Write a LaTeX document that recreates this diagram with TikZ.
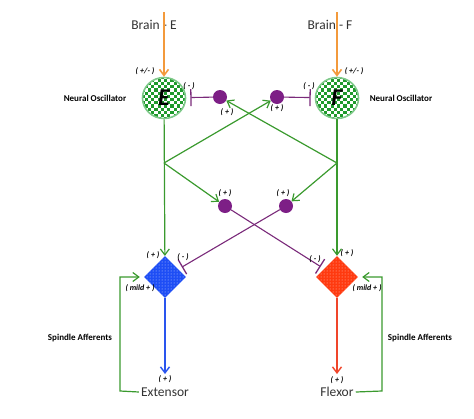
\documentclass[tikz,border=0pt]{standalone}
\usepackage{fontspec}
\setmainfont{Carlito}
\usetikzlibrary{arrows.meta,shapes.geometric,patterns}
\definecolor{orng}{HTML}{F39A3C}
\definecolor{grn}{HTML}{3A9A2E}
\definecolor{purp}{HTML}{7A2A7A}
\definecolor{dotc}{HTML}{7D1F86}
\definecolor{blu}{HTML}{2A55EE}
\definecolor{bluf}{HTML}{1E4EF5}
\definecolor{redl}{HTML}{F0452A}
\definecolor{redf}{HTML}{FF3A10}
\definecolor{chk}{HTML}{1F9A2C}
\definecolor{ring}{HTML}{7FC98A}
\definecolor{txt}{HTML}{333333}
\newcommand\checkerdisk[2]{%
\begin{scope}
\clip (#1,#2) ellipse (21.5 and 20.5);
\fill[white] (#1,#2) circle (22);
\foreach \i in {-7,...,6}{\foreach \j in {-7,...,6}{%
 \pgfmathtruncatemacro\pp{mod(\i+\j+20,2)}%
 \ifnum\pp=0 \fill[chk] ({#1+\i*3.2},{#2+\j*3.2}) rectangle ++(3.25,3.25);\fi}}
\end{scope}}
\begin{document}
\begin{tikzpicture}[x=1pt,y=-1pt,
  osc/.style={ellipse,draw=ring,line width=1.6pt,minimum width=43pt,minimum height=41pt,inner sep=0pt,
    font=\fontsize{24}{24}\selectfont\bfseries\itshape},
  pdot/.style={circle,fill=dotc,minimum size=14pt,inner sep=0pt},
  dia/.style={diamond,minimum width=42pt,minimum height=42pt,inner sep=0pt},
  lab/.style={font=\fontsize{8}{9}\selectfont\bfseries\itshape,inner sep=0pt},
  side/.style={font=\fontsize{9}{10}\selectfont\bfseries,inner sep=0pt},
  big/.style={font=\fontsize{13.5}{15}\selectfont,text=txt,inner sep=2pt},
  garr/.style={draw=grn,line width=1.2pt,-{Straight Barb[length=6pt,width=9pt]}},
  oarr/.style={draw=orng,line width=1.6pt,-{Straight Barb[length=6pt,width=9pt]}},
  pinh/.style={draw=purp,line width=1.1pt,-{Bar[width=17pt,line width=1.3pt]}}
]
\useasboundingbox (0,0) rectangle (474,418);
% oscillators
\checkerdisk{164}{98}
\checkerdisk{337}{98}
\node[osc] (E) at (164,98) {E};
\node[osc] (F) at (337,98) {F};
% brain inputs
\node[big] (bE) at (154,25) {Brain - E};
\node[big] (bF) at (330,25) {Brain - F};
\coordinate (sE) at (164,12);
\coordinate (sF) at (337,12);
\draw[oarr] (sE) -- (E);
\draw[oarr] (sF) -- (F);
% dots
\node[pdot] (d1) at (220,97) {};
\node[pdot] (d2) at (277,97) {};
\node[pdot] (d3) at (225,206) {};
\node[pdot] (d4) at (286,206) {};
% diamonds
\node[dia,fill=bluf,postaction={pattern=dots,pattern color=white!75!bluf}] (X) at (165,277) {};
\node[dia,fill=redf,postaction={pattern=dots,pattern color=white!70!redf}] (Y) at (337,277) {};
% junctions
\coordinate (jL) at (164,163);
\coordinate (jR) at (337,163);
\draw[garr] (E) -- (X);
\draw[garr] (F) -- (Y);
\draw[garr] (jL) -- (d2);
\draw[garr] (jR) -- (d1);
\draw[garr] (jL) -- (d3);
\draw[garr] (jR) -- (d4);
% inhibition
\draw[pinh,shorten >=4pt] (d1) -- (E);
\draw[pinh,shorten >=4pt] (d2) -- (F);
\draw[pinh,shorten >=4pt] (d3) -- (Y);
\draw[pinh,shorten >=4pt] (d4) -- (X);
% outputs
\node[big] (ext) at (165,392) {Extensor};
\node[big] (flx) at (337,392) {Flexor};
\coordinate (eE) at (165,374);
\coordinate (eF) at (337,374);
\draw[draw=blu,line width=1.4pt,-{Straight Barb[length=6pt,width=9pt]}] (X) -- (eE);
\draw[draw=redl,line width=1.4pt,-{Straight Barb[length=6pt,width=9pt]}] (Y) -- (eF);
% spindle afferents
\coordinate (sl) at (120,391);
\coordinate (sr) at (382,391);
\draw[garr,shorten >=4pt] (ext.west) -- (sl) |- (X.west);
\draw[garr,shorten >=4pt] (flx.east) -- (sr) |- (Y.east);
\node[side] (saL) at (80,338) {Spindle Afferents};
\node[side] (saR) at (420,338) {Spindle Afferents};
\node[side] (noL) at (95,98) {Neural Oscillator};
\node[side] (noR) at (401,98) {Neural Oscillator};
% small labels
\node[lab] at (145,71) {( +/- )};
\node[lab] at (354,71) {( +/- )};
\node[lab] at (189,86) {( - )};
\node[lab] at (309,86) {( - )};
\node[lab] at (227,112) {( + )};
\node[lab] at (277,108) {( + )};
\node[lab] at (225,193) {( + )};
\node[lab] at (283,193) {( + )};
\node[lab] at (153,255) {( + )};
\node[lab] at (183,257) {( - )};
\node[lab] at (315,259) {( - )};
\node[lab] at (347,253) {( + )};
\node[lab] at (140,288) {( mild + )};
\node[lab] at (367,288) {( mild + )};
\node[lab] at (165,379) {( + )};
\node[lab] at (337,380) {( + )};
\end{tikzpicture}
\end{document}
